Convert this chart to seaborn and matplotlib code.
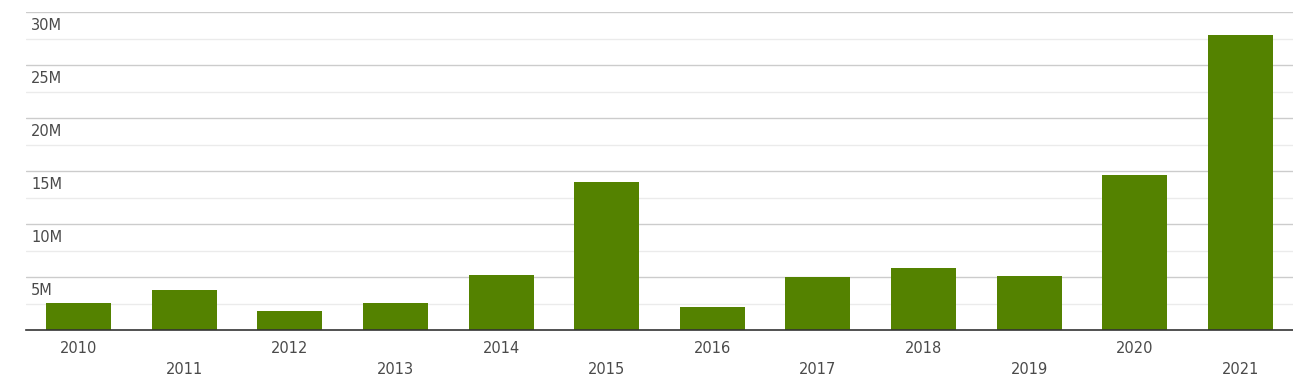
import matplotlib
matplotlib.use("Agg")
import matplotlib.pyplot as plt
import matplotlib.transforms as mtransforms
import seaborn as sns
import pandas as pd
import numpy as np

years = ["2010", "2011", "2012", "2013", "2014", "2015", "2016", "2017", "2018", "2019", "2020", "2021"]
values = [2.55e6, 3.78e6, 1.79e6, 2.55e6, 5.19e6, 13.97e6, 2.17e6, 5.0e6, 5.85e6, 5.10e6, 14.64e6, 27.86e6]
y_ticks = [5e6, 10e6, 15e6, 20e6, 25e6, 30e6]

sns.set_theme(style="white")
plt.rcParams['font.family'] = ['DejaVu Sans']

df = pd.DataFrame({"year": years, "value": values})

fig = plt.figure(figsize=(12.93, 3.84), dpi=100)
ax = fig.add_axes([26/1293, 1 - 330/384, 1 - 26/1293, (330 - 12)/384])

sns.barplot(data=df, x="year", y="value", order=years, color="#548200",
            width=0.615, saturation=1, linewidth=0, ax=ax, zorder=3)

ax.set_ylim(0, 30e6)
ax.set_xlim(-0.5, len(years) - 0.5)

# gridlines
for v in np.arange(2.5e6, 30e6 + 1, 2.5e6):
    major = abs((v / 5e6) - round(v / 5e6)) < 1e-9
    ax.axhline(v, color="#cccccc" if major else "#ebebeb", lw=1.0, zorder=1)

for s in ["top", "left", "right"]:
    ax.spines[s].set_visible(False)
ax.spines["bottom"].set_color("#333333")
ax.spines["bottom"].set_linewidth(1.2)
ax.spines["bottom"].set_zorder(4)

ax.set_yticks([])
ax.set_xlabel("")
ax.set_ylabel("")

# y labels inside plot below gridlines
offset = mtransforms.ScaledTranslation(5/100, -6/100, fig.dpi_scale_trans)
trans = mtransforms.blended_transform_factory(ax.transAxes, ax.transData) + offset
for v in y_ticks:
    ax.text(0, v, f"{v/1e6:.0f}M", transform=trans, ha="left", va="top",
            fontsize=10.5, color="#4a4a4a", zorder=5)

# x labels staggered
ax.set_xticks(range(len(years)))
ax.set_xticklabels(years, fontsize=10.5, color="#4a4a4a")
ax.tick_params(axis="x", length=0)
for i, tick in enumerate(ax.xaxis.get_major_ticks()):
    tick.set_pad(8 if i % 2 == 0 else 23)

fig.savefig("out.png", dpi=100)
